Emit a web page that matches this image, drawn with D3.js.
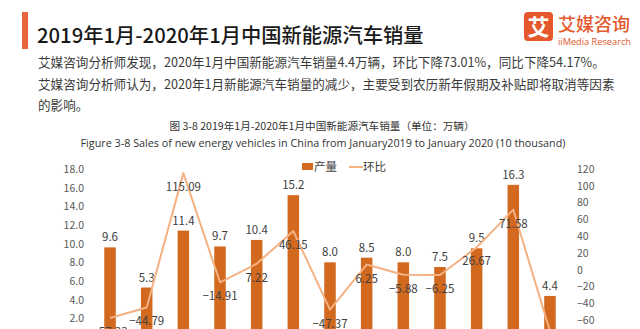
<!DOCTYPE html>
<html>
<head>
<meta charset="utf-8">
<script src="https://cdn.jsdelivr.net/npm/d3@7"></script>
<style>
  html, body { margin: 0; padding: 0; background: #fff; }
  svg { display: block; }
</style>
</head>
<body>
<svg id="chart" width="640" height="329"></svg>
<script>
// ---- data ----
const months = ["2019-01","2019-02","2019-03","2019-04","2019-05","2019-06","2019-07",
                "2019-08","2019-09","2019-10","2019-11","2019-12","2020-01"];
const sales = [9.6, 5.3, 11.4, 9.7, 10.4, 15.2, 8.0, 8.5, 8.0, 7.5, 9.5, 16.3, 4.4];
const mom = [-57.33, -44.79, 115.09, -14.91, 7.22, 46.15, -47.37, 6.25, -5.88, -6.25, 26.67, 71.58, -73.01];
const leftTicks = [0, 2, 4, 6, 8, 10, 12, 14, 16, 18];
const rightTicks = [-80, -60, -40, -20, 0, 20, 40, 60, 80, 100, 120];
const seriesNames = ["产量", "环比"];
const titleText = "2019年1月-2020年1月中国新能源汽车销量";
const bodyLines = [
  "艾媒咨询分析师发现，2020年1月中国新能源汽车销量4.4万辆，环比下降73.01%，同比下降54.17%。",
  "艾媒咨询分析师认为，2020年1月新能源汽车销量的减少，主要受到农历新年假期及补贴即将取消等因素",
  "的影响。"
];
const chartTitleCN = "图 3-8 2019年1月-2020年1月中国新能源汽车销量（单位：万辆）";
const chartTitleEN = "Figure 3-8 Sales of new energy vehicles in China from January2019 to January 2020 (10 thousand)";

// ---- style ----
const CJK = "'Noto Sans CJK SC', 'Noto Sans', sans-serif";
const barColor = "#D2691E";
const lineColor = "#F4B183";
const brand = "#E4582C";

const svg = d3.select("#chart");

// header
svg.append("rect").attr("x", 22).attr("y", 12).attr("width", 6).attr("height", 37).attr("fill", "#E8643A");
svg.append("text").attr("x", 37).attr("y", 43)
  .attr("font-family", CJK).attr("font-size", 20.3).attr("font-weight", 500).attr("fill", "#1a1a1a")
  .text(titleText);

// logo
svg.append("rect").attr("x", 524).attr("y", 12).attr("width", 29).attr("height", 29).attr("rx", 4).attr("fill", brand);
svg.append("text").attr("x", 538.5).attr("y", 34.5).attr("text-anchor", "middle")
  .attr("font-family", CJK).attr("font-size", 22).attr("font-weight", 700).attr("fill", "#fff").text("艾");
svg.append("text").attr("x", 558).attr("y", 31)
  .attr("font-family", CJK).attr("font-size", 18).attr("font-weight", 500).attr("fill", brand).text("艾媒咨询");
svg.append("text").attr("x", 558).attr("y", 45)
  .attr("font-family", "'Open Sans', sans-serif").attr("font-size", 9.5).attr("fill", brand)
  .attr("textLength", 73).attr("lengthAdjust", "spacingAndGlyphs").text("iiMedia Research");

// body text
svg.selectAll("text.body").data(bodyLines).join("text").attr("class", "body")
  .attr("x", 38).attr("y", (d, i) => 67 + i * 21.5)
  .attr("font-family", CJK).attr("font-size", 12.6).attr("fill", "#3a3a3a")
  .text(d => d);

// chart titles
svg.append("text").attr("x", 322).attr("y", 130).attr("text-anchor", "middle")
  .attr("font-family", CJK).attr("font-size", 10.6).attr("fill", "#333").text(chartTitleCN);
svg.append("text").attr("x", 323).attr("y", 146.5).attr("text-anchor", "middle")
  .attr("font-family", "'Open Sans', sans-serif").attr("font-size", 11.5).attr("fill", "#333")
  .attr("textLength", 485).attr("lengthAdjust", "spacingAndGlyphs")
  .text(chartTitleEN);

// scales
const x = d3.scaleBand().domain(months).range([91.7, 568.3]).paddingInner(0.686).paddingOuter(0.343);
const yL = d3.scaleLinear().domain([0, 18]).range([337, 169]);
const yR = d3.scaleLinear().domain([-80, 120]).range([337, 169]);

// axes
const axL = svg.append("g").attr("transform", "translate(84,0)")
  .call(d3.axisLeft(yL).tickValues(leftTicks).tickSize(0).tickPadding(0).tickFormat(d3.format(".1f")));
const axR = svg.append("g").attr("transform", "translate(577,0)")
  .call(d3.axisRight(yR).tickValues(rightTicks).tickSize(0).tickPadding(0).tickFormat(d3.format("d")));
[axL, axR].forEach(g => {
  g.select(".domain").remove();
  g.selectAll("text").attr("font-family", CJK).attr("font-size", 10.5).attr("fill", "#595959");
});

// bars
svg.append("g").selectAll("rect").data(months).join("rect")
  .attr("x", d => x(d)).attr("width", x.bandwidth())
  .attr("y", (d, i) => yL(sales[i])).attr("height", (d, i) => yL(0) - yL(sales[i]))
  .attr("fill", barColor);

// bar labels
svg.append("g").selectAll("text").data(months).join("text")
  .attr("x", d => x(d) + x.bandwidth() / 2)
  .attr("y", (d, i) => yL(sales[i]) - 6)
  .attr("text-anchor", "middle").attr("font-family", CJK).attr("font-size", 11.5).attr("fill", "#404040")
  .text((d, i) => d3.format(".1f")(sales[i]));

// line
const line = d3.line().x(d => x(d.m) + x.bandwidth() / 2).y(d => yR(d.v));
const pts = months.map((m, i) => ({ m, v: mom[i] }));
svg.append("path").datum(pts).attr("d", line)
  .attr("fill", "none").attr("stroke", lineColor).attr("stroke-width", 2).attr("stroke-linejoin", "round");

// line labels
svg.append("g").selectAll("text").data(pts).join("text")
  .attr("x", d => x(d.m) + x.bandwidth() / 2)
  .attr("y", d => yR(d.v) + 18)
  .attr("text-anchor", "middle").attr("font-family", CJK).attr("font-size", 11.5).attr("fill", "#404040")
  .text(d => d3.format(".2f")(d.v));

// legend
const lg = svg.append("g");
lg.append("rect").attr("x", 302).attr("y", 163).attr("width", 11).attr("height", 7).attr("fill", barColor);
lg.append("text").attr("x", 314).attr("y", 171).attr("font-family", CJK).attr("font-size", 11.5).attr("fill", "#404040").text(seriesNames[0]);
lg.append("line").attr("x1", 349).attr("x2", 363).attr("y1", 167).attr("y2", 167).attr("stroke", lineColor).attr("stroke-width", 2);
lg.append("text").attr("x", 363).attr("y", 171).attr("font-family", CJK).attr("font-size", 11.5).attr("fill", "#404040").text(seriesNames[1]);
</script>
</body>
</html>
